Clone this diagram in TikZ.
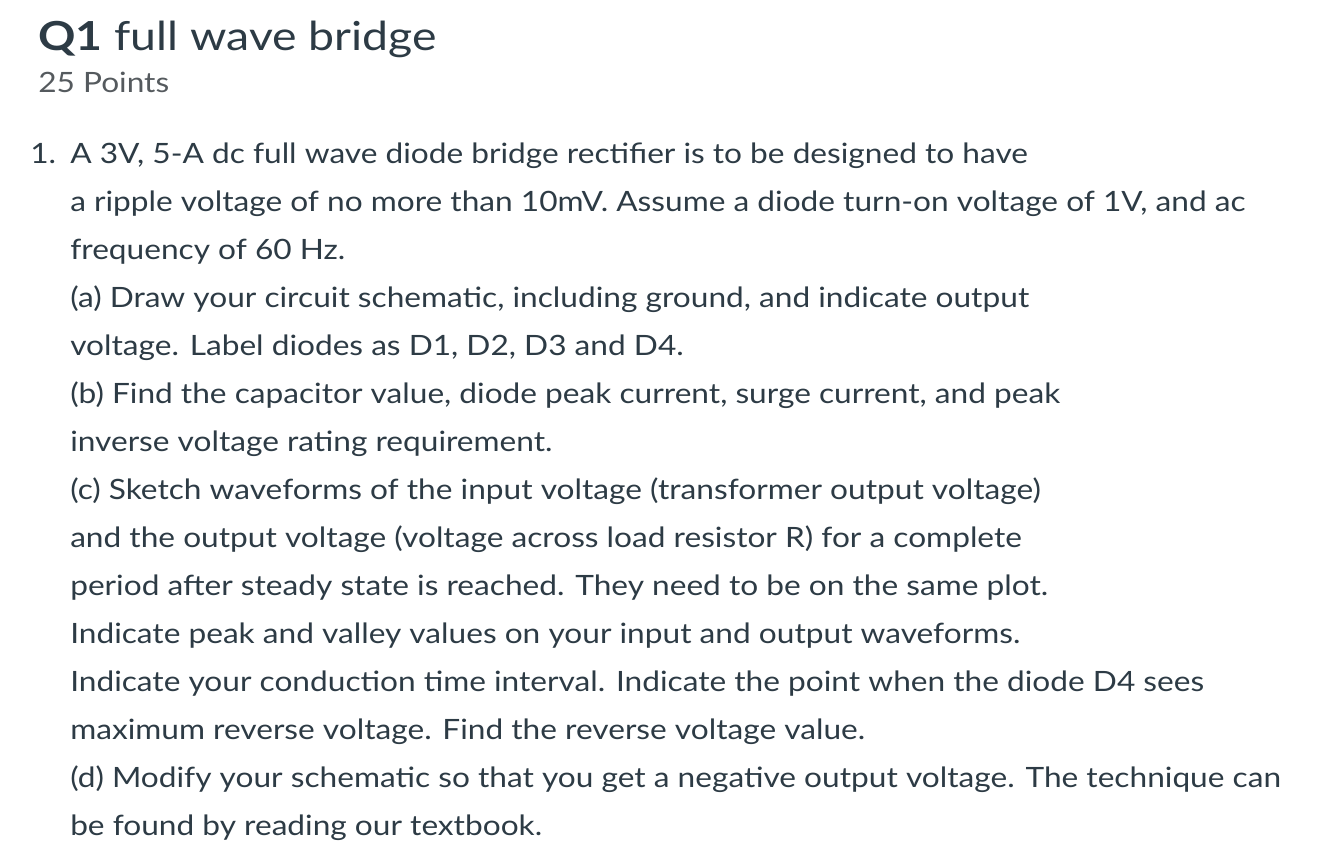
\documentclass[tikz,border=0pt]{standalone}
\usepackage{fontspec}
\setmainfont{Lato}[FakeStretch=1.13]
\newfontfamily\titlefont{Lato}[FakeStretch=1.16]
\definecolor{txt}{HTML}{2D3B45}
\definecolor{pts}{HTML}{555A5E}
\begin{document}
\begin{tikzpicture}[x=0.75pt,y=-0.75pt,
  body/.style={anchor=base west,inner sep=0pt,text=txt,font=\fontsize{21}{24}\selectfont}]
\useasboundingbox (0,0) rectangle (1318,854);
\node[anchor=base west,inner sep=0pt,text=txt,font=\titlefont\fontsize{30}{36}\selectfont] (t) at (38,50) {\textbf{Q1} full wave bridge};
\node[anchor=base west,inner sep=0pt,text=pts,font=\fontsize{21}{24}\selectfont] (p) at (38,92) {25 Points};
\node[body] (n) at (30,163) {1.};
\foreach \i/\s in {0/{A 3V, 5-A dc full wave diode bridge rectifier is to be designed to have},
1/{a ripple voltage of no more than 10mV. Assume a diode turn-on voltage of 1V, and ac},
2/{frequency of 60 Hz.},
3/{(a) Draw your circuit schematic, including ground, and indicate output},
4/{voltage. Label diodes as D1, D2, D3 and D4.},
5/{(b) Find the capacitor value, diode peak current, surge current, and peak},
6/{inverse voltage rating requirement.},
7/{(c) Sketch waveforms of the input voltage (transformer output voltage)},
8/{and the output voltage (voltage across load resistor R) for a complete},
9/{period after steady state is reached. They need to be on the same plot.},
10/{Indicate peak and valley values on your input and output waveforms.},
11/{Indicate your conduction time interval. Indicate the point when the diode D4 sees},
12/{maximum reverse voltage. Find the reverse voltage value.},
13/{(d) Modify your schematic so that you get a negative output voltage. The technique can},
14/{be found by reading our textbook.}}
  \node[body] (l\i) at (70,163+48*\i) {\s};
\end{tikzpicture}
\end{document}
